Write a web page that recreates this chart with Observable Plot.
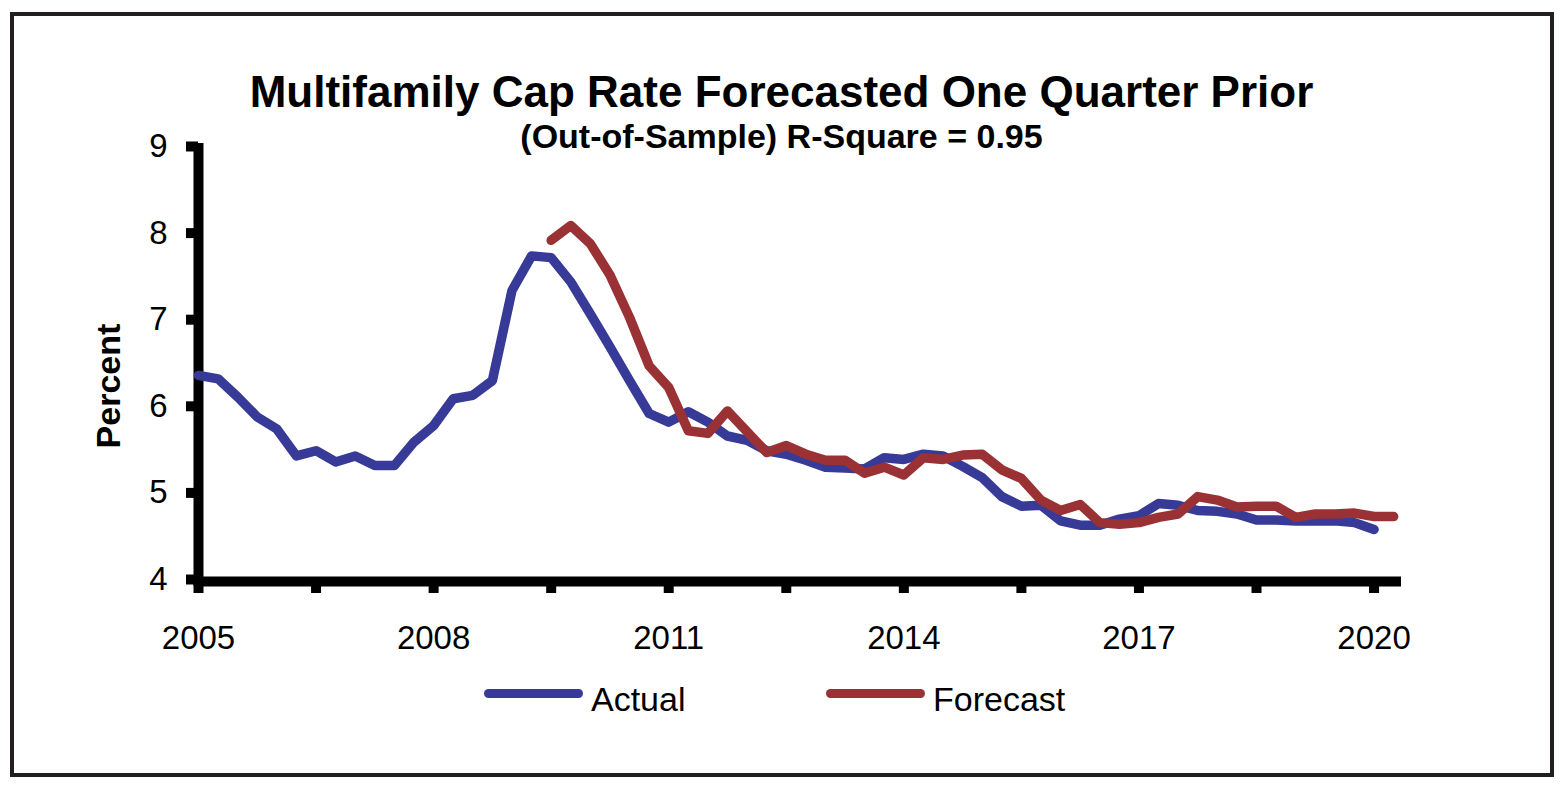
<!DOCTYPE html>
<html>
<head>
<meta charset="utf-8">
<script src="https://cdn.jsdelivr.net/npm/d3@7"></script>
<script src="https://cdn.jsdelivr.net/npm/@observablehq/plot@0.6"></script>
<style>
  html, body { margin: 0; padding: 0; background: #fff; }
  #page {
    position: relative; width: 1566px; height: 789px; overflow: hidden;
    font-family: "Liberation Sans", Arial, Helvetica, sans-serif; color: #000;
  }
  #frame {
    position: absolute; left: 10px; top: 12px; width: 1544px; height: 765px;
    box-sizing: border-box; border: 4px solid #231f20;
  }
  #chart { position: absolute; left: 0; top: 0; }
  .title, .subtitle {
    position: absolute; left: 0; width: 1563px; text-align: center;
    font-weight: bold; white-space: nowrap;
  }
  .title { top: 69.5px; font-size: 44px; line-height: 44px; }
  .subtitle { top: 119px; font-size: 34px; line-height: 34px; }
  .ylabel {
    position: absolute; left: 8.4px; top: 368.5px; width: 200px; height: 34px;
    font-size: 34px; line-height: 34px; font-weight: bold; text-align: center;
    transform: rotate(-90deg);
  }
  .swatch { position: absolute; width: 99px; height: 9px; border-radius: 4.5px; top: 688.5px; }
  .key { position: absolute; top: 682px; font-size: 34px; line-height: 34px; white-space: nowrap; }
</style>
</head>
<body>
<div id="page">
  <div id="frame"></div>
  <div id="chart"></div>
  <div class="title">Multifamily Cap Rate Forecasted One Quarter Prior</div>
  <div class="subtitle">(Out-of-Sample) R-Square = 0.95</div>
  <div class="ylabel">Percent</div>
  <div id="legend"></div>
</div>
<script>
// Quarterly multifamily cap rates (percent), first quarter 2005 Q1
const firstYear = 2005;
const actualRate = [
  6.38, 6.34, 6.13, 5.90, 5.76, 5.45, 5.51, 5.38, 5.45, 5.34,
  5.34, 5.61, 5.80, 6.11, 6.15, 6.32, 7.36, 7.76, 7.74, 7.46,
  7.09, 6.71, 6.32, 5.94, 5.84, 5.96, 5.84, 5.68, 5.63, 5.51,
  5.47, 5.40, 5.32, 5.31, 5.30, 5.43, 5.41, 5.47, 5.45, 5.33,
  5.20, 4.98, 4.87, 4.88, 4.70, 4.65, 4.65, 4.72, 4.76, 4.90,
  4.88, 4.82, 4.81, 4.78, 4.71, 4.71, 4.70, 4.70, 4.70, 4.68,
  4.60
];
// One-quarter-ahead forecast, available from 2009 Q3
const forecastRate = [
  null, null, null, null, null, null, null, null, null, null,
  null, null, null, null, null, null, null, null, 7.94, 8.11,
  7.90, 7.54, 7.05, 6.49, 6.24, 5.74, 5.71, 5.97, 5.73, 5.49,
  5.57, 5.47, 5.40, 5.40, 5.25, 5.32, 5.23, 5.43, 5.41, 5.46,
  5.47, 5.29, 5.19, 4.94, 4.82, 4.89, 4.68, 4.66, 4.68, 4.74,
  4.78, 4.98, 4.94, 4.86, 4.87, 4.87, 4.74, 4.78, 4.78, 4.79,
  4.75, 4.75
];
const seriesNames = ["Actual", "Forecast"];
const seriesColors = ["#373a97", "#9a3235"];
const yTicks = [4, 5, 6, 7, 8, 9];
const xTickYears = [2005, 2006.5, 2008, 2009.5, 2011, 2012.5, 2014, 2015.5, 2017, 2018.5, 2020];
const xLabelYears = [2005, 2008, 2011, 2014, 2017, 2020];

const rows = forecastRate.map((f, i) => ({
  year: firstYear + i / 4,
  actual: i < actualRate.length ? actualRate[i] : null,
  forecast: f
}));

const chart = Plot.plot({
  width: 1566,
  height: 789,
  marginLeft: 198,
  marginRight: 165,
  marginTop: 148,
  marginBottom: 208,
  style: { background: "transparent", fontFamily: "'Liberation Sans', Arial, sans-serif", color: "#000" },
  x: { domain: [2005, 2020.35], label: null },
  y: { domain: [4, 9], label: null },
  marks: [
    Plot.axisY({ ticks: yTicks, tickSize: 12, tickPadding: 19, strokeWidth: 10, fontSize: 33, dy: -2,
                 tickFormat: d => String(d), label: null }),
    Plot.axisX({ ticks: xTickYears, tickSize: 12, strokeWidth: 10, text: null, label: null }),
    Plot.axisX({ ticks: xLabelYears, tickSize: 0, tickPadding: 44, fontSize: 33,
                 tickFormat: d => String(d), label: null }),
    Plot.ruleY([4], { strokeWidth: 10, stroke: "#000" }),
    Plot.ruleX([2005], { strokeWidth: 10, stroke: "#000", strokeLinecap: "square" }),
    Plot.lineY(rows, { x: "year", y: "actual", stroke: seriesColors[0], strokeWidth: 9.5,
                       strokeLinejoin: "round", strokeLinecap: "round" }),
    Plot.lineY(rows, { x: "year", y: "forecast", stroke: seriesColors[1], strokeWidth: 9.5,
                       strokeLinejoin: "round", strokeLinecap: "round" })
  ]
});
document.getElementById("chart").appendChild(chart);

// Legend below the plot area
const legend = document.getElementById("legend");
const swatchLeft = [484, 826];
seriesNames.forEach((name, i) => {
  const sw = document.createElement("div");
  sw.className = "swatch";
  sw.style.left = swatchLeft[i] + "px";
  sw.style.background = seriesColors[i];
  legend.appendChild(sw);
  const t = document.createElement("div");
  t.className = "key";
  t.style.left = (swatchLeft[i] + 107) + "px";
  t.textContent = name;
  legend.appendChild(t);
});
</script>
</body>
</html>
